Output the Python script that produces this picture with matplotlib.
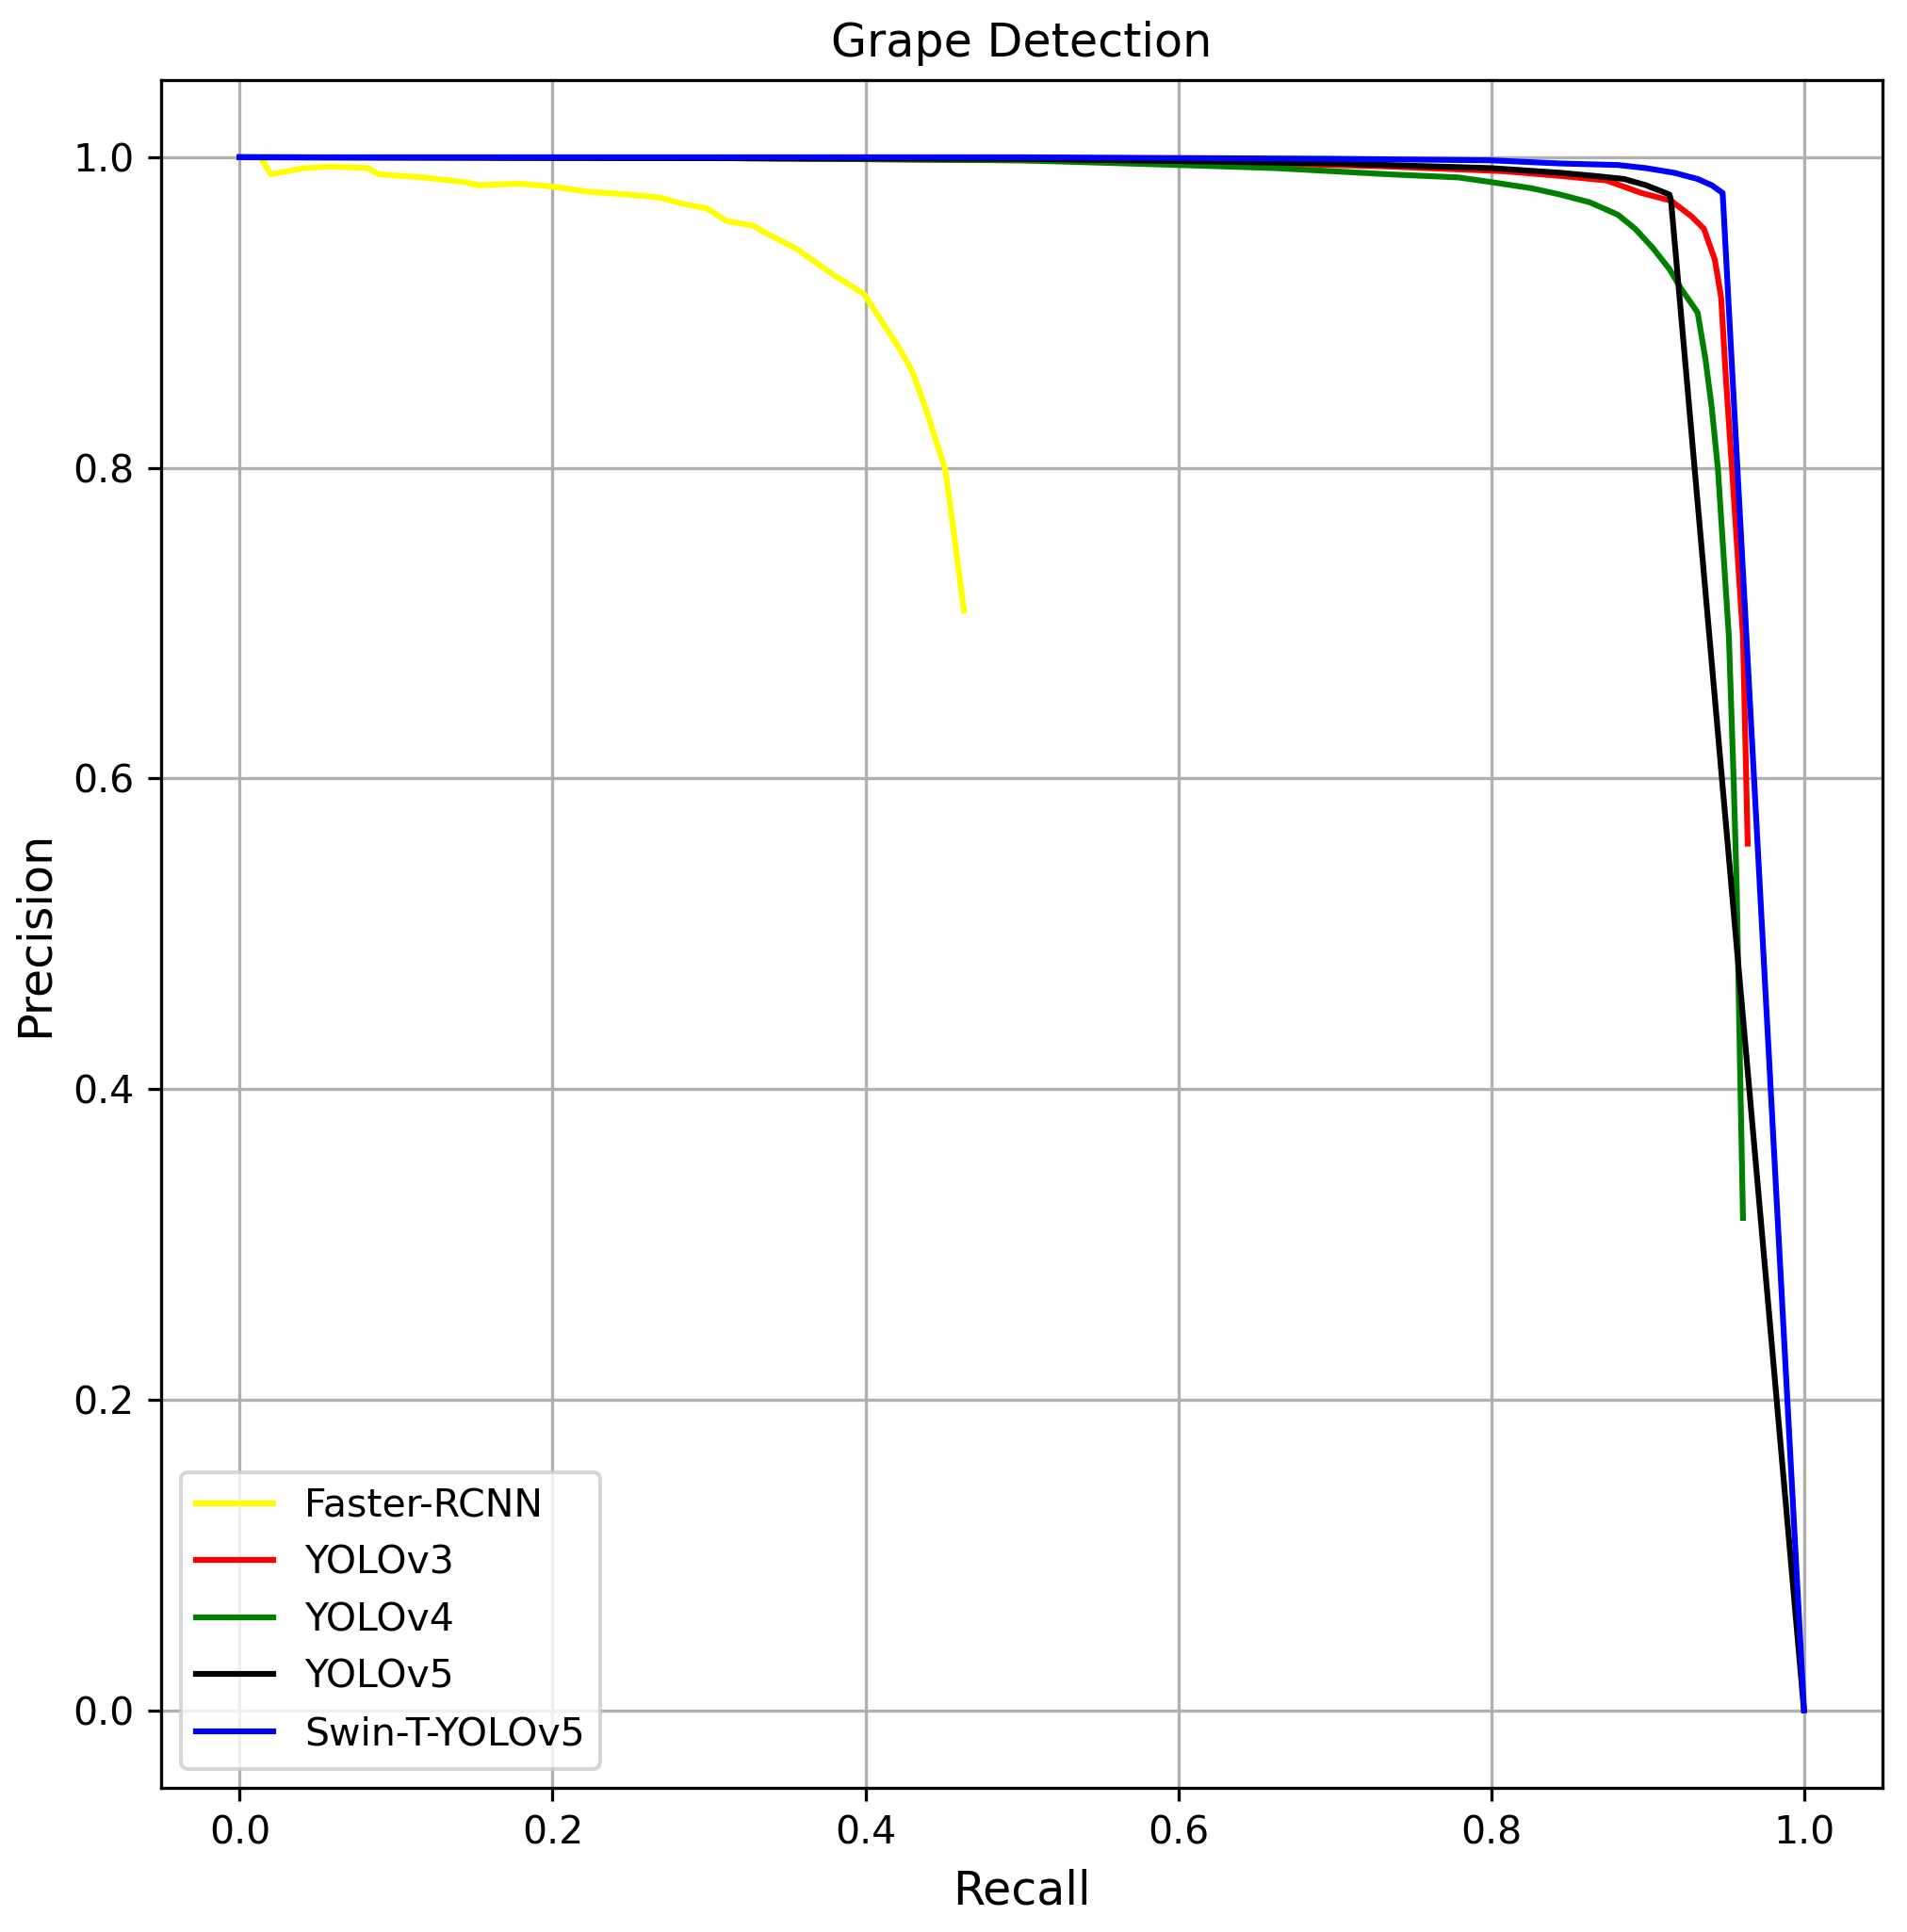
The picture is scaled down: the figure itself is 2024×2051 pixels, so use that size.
import matplotlib
matplotlib.use("Agg")
import matplotlib.pyplot as plt

# precision-recall points
faster_rcnn_recall = [0.015, 0.020, 0.041, 0.058, 0.082, 0.089, 0.117, 0.144, 0.152, 0.179,
                      0.201, 0.221, 0.248, 0.269, 0.283, 0.299, 0.311, 0.328, 0.335, 0.356,
                      0.380, 0.399, 0.421, 0.430, 0.439, 0.451, 0.456, 0.463]
faster_rcnn_precision = [0.997, 0.989, 0.993, 0.994, 0.993, 0.989, 0.987, 0.984, 0.982, 0.983,
                         0.981, 0.978, 0.976, 0.974, 0.970, 0.967, 0.959, 0.956, 0.952, 0.941,
                         0.924, 0.912, 0.878, 0.862, 0.837, 0.799, 0.762, 0.708]

yolov3_recall = [0.0, 0.3, 0.5, 0.662, 0.735, 0.808, 0.844, 0.874, 0.885, 0.896, 0.915,
                 0.928, 0.936, 0.943, 0.947, 0.950, 0.954, 0.961, 0.964]
yolov3_precision = [1.0, 0.9995, 0.998, 0.996, 0.994, 0.991, 0.988, 0.985, 0.981, 0.977, 0.972,
                    0.962, 0.954, 0.934, 0.910, 0.859, 0.799, 0.691, 0.558]

yolov4_recall = [0.0, 0.3, 0.5, 0.6, 0.662, 0.735, 0.779, 0.8, 0.826, 0.844, 0.863, 0.881,
                 0.892, 0.903, 0.914, 0.921, 0.932, 0.937, 0.941, 0.945, 0.952, 0.955,
                 0.957, 0.959, 0.961]
yolov4_precision = [1.0, 0.9995, 0.998, 0.995, 0.993, 0.989, 0.987, 0.984, 0.980, 0.976, 0.971,
                    0.963, 0.954, 0.942, 0.928, 0.916, 0.900, 0.870, 0.839, 0.799, 0.691,
                    0.600, 0.529, 0.420, 0.317]

yolov5_recall = [0.0, 0.5, 0.7, 0.8, 0.844, 0.866, 0.885, 0.899, 0.914, 0.915, 1.0]
yolov5_precision = [1.0, 0.999, 0.996, 0.993, 0.990, 0.988, 0.986, 0.982, 0.976, 0.972, 0.0]

swin_recall = [0.0, 0.5, 0.7, 0.8, 0.844, 0.881, 0.899, 0.917, 0.932, 0.941, 0.948, 1.0]
swin_precision = [1.0, 1.0, 0.999, 0.998, 0.996, 0.995, 0.993, 0.990, 0.986, 0.982, 0.977, 0.0]

dpi = 295
fig = plt.figure(figsize=(2024 / dpi, 2051 / dpi), dpi=dpi)
ax = fig.add_axes([0.0847, 0.0746, 0.9023, 0.8842])

ax.plot(faster_rcnn_recall, faster_rcnn_precision, color='yellow', label='Faster-RCNN')
ax.plot(yolov3_recall, yolov3_precision, color='red', label='YOLOv3')
ax.plot(yolov4_recall, yolov4_precision, color='green', label='YOLOv4')
ax.plot(yolov5_recall, yolov5_precision, color='black', label='YOLOv5')
ax.plot(swin_recall, swin_precision, color='blue', label='Swin-T-YOLOv5')

ax.set_xlim(-0.05, 1.05)
ax.set_ylim(-0.05, 1.05)
ax.set_title('Grape Detection')
ax.set_xlabel('Recall', fontsize=12)
ax.set_ylabel('Precision', fontsize=12)
ax.grid(True)
ax.legend(loc='lower left')

fig.savefig('out.png', dpi=dpi)
